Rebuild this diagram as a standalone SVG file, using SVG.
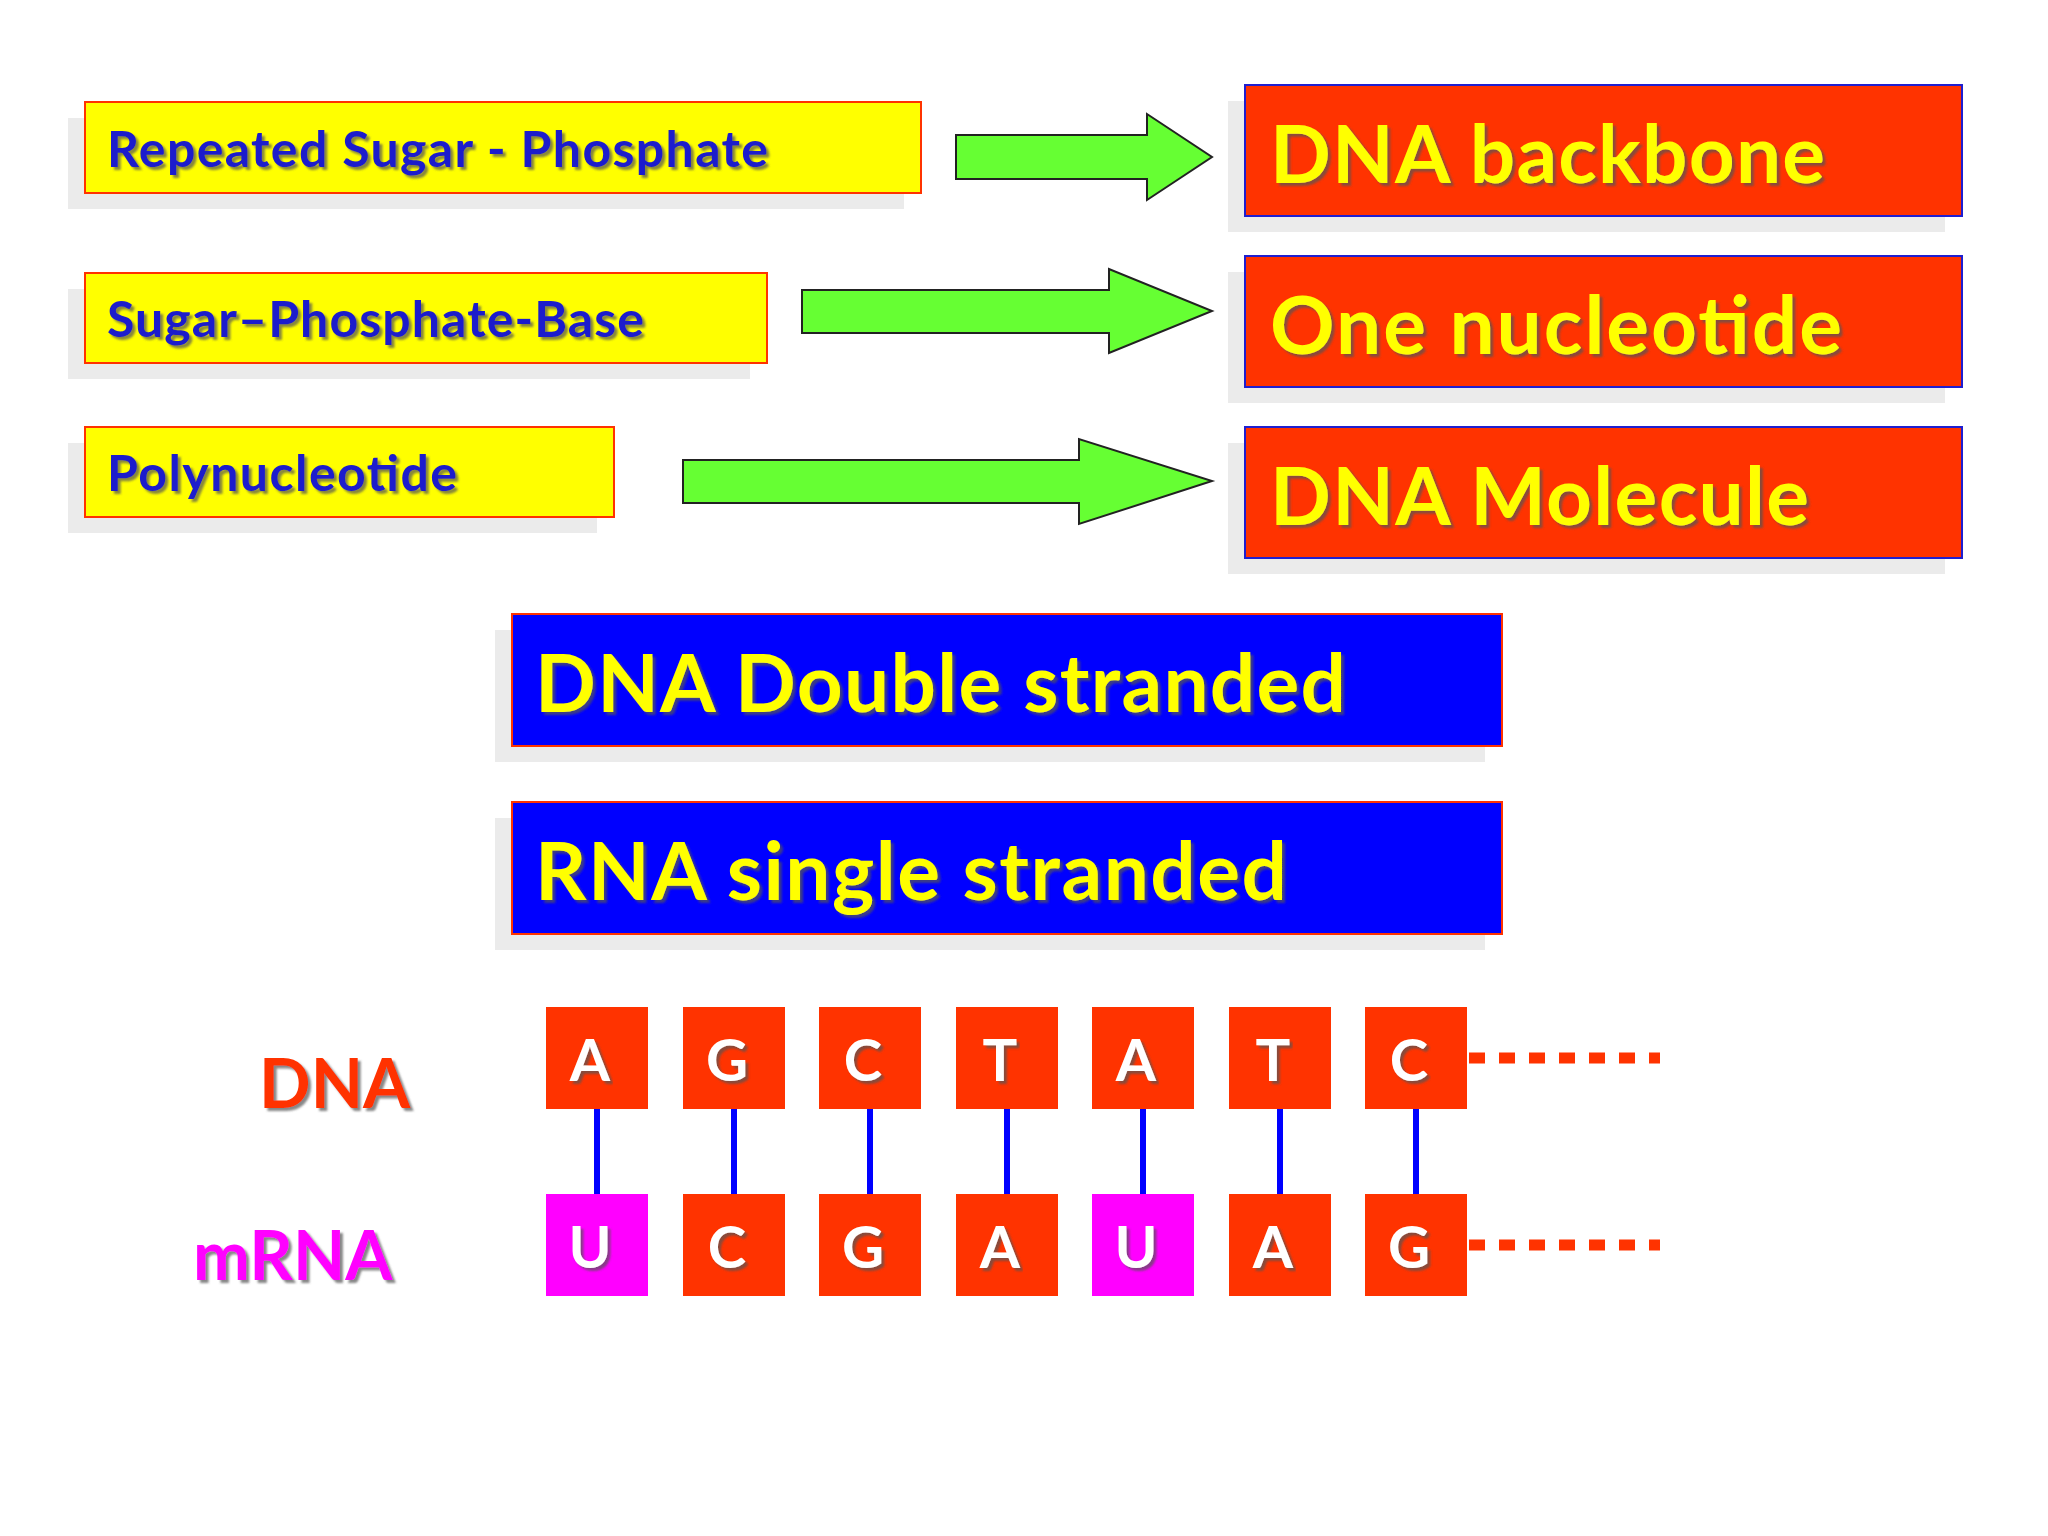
<svg xmlns="http://www.w3.org/2000/svg" width="2048" height="1536" viewBox="0 0 2048 1536">
<defs>
<style>
.t{font-family:Lato,"Open Sans","Liberation Sans",sans-serif;font-weight:bold}
.sh{fill:#ebebeb}
.yb{fill:#ffff00;stroke:#ff3300;stroke-width:2}
.rb{fill:#ff3300;stroke:#1f1fd0;stroke-width:2}
.bb{fill:#0000ff;stroke:#ff3300;stroke-width:2}
.ar{fill:#66ff33;stroke:#222;stroke-width:2}
.ln{stroke:#0000ff;stroke-width:6}
.dt{stroke:#ff3300;stroke-width:11;stroke-dasharray:16 14}
.lt{fill:#fff;font-size:58px;text-anchor:middle}
</style>
<filter id="ts" x="-5%" y="-20%" width="110%" height="140%"><feDropShadow dx="3" dy="3" stdDeviation="1" flood-color="#555" flood-opacity="0.7"/></filter>
</defs>
<rect width="2048" height="1536" fill="#fff"/>
<g id="n1"><rect class="sh" x="68" y="118" width="836" height="91"/><rect class="yb" x="85" y="102" width="836" height="91"/><text class="t" x="107" y="167" font-size="50" fill="#1a1acc" textLength="661" filter="url(#ts)">Repeated Sugar - Phosphate</text></g>
<g id="n2"><rect class="sh" x="68" y="289" width="682" height="90"/><rect class="yb" x="85" y="273" width="682" height="90"/><text class="t" x="107" y="337" font-size="50" fill="#1a1acc" textLength="537" filter="url(#ts)">Sugar–Phosphate-Base</text></g>
<g id="n3"><rect class="sh" x="68" y="443" width="529" height="90"/><rect class="yb" x="85" y="427" width="529" height="90"/><text class="t" x="107" y="491" font-size="50" fill="#1a1acc" textLength="350" filter="url(#ts)">Polynucleotide</text></g>
<g id="r1"><rect class="sh" x="1228" y="101" width="717" height="131"/><rect class="rb" x="1245" y="85" width="717" height="131"/><text class="t" x="1270" y="183" font-size="80" fill="#ffff00" textLength="555" filter="url(#ts)">DNA backbone</text></g>
<g id="r2"><rect class="sh" x="1228" y="272" width="717" height="131"/><rect class="rb" x="1245" y="256" width="717" height="131"/><text class="t" x="1270" y="354" font-size="80" fill="#ffff00" textLength="572" filter="url(#ts)">One nucleotide</text></g>
<g id="r3"><rect class="sh" x="1228" y="443" width="717" height="131"/><rect class="rb" x="1245" y="427" width="717" height="131"/><text class="t" x="1270" y="525" font-size="80" fill="#ffff00" textLength="539" filter="url(#ts)">DNA Molecule</text></g>
<g id="b1"><rect class="sh" x="495" y="630" width="990" height="132"/><rect class="bb" x="512" y="614" width="990" height="132"/><text class="t" x="535" y="712" font-size="80" fill="#ffff00" textLength="811" filter="url(#ts)">DNA Double stranded</text></g>
<g id="b2"><rect class="sh" x="495" y="818" width="990" height="132"/><rect class="bb" x="512" y="802" width="990" height="132"/><text class="t" x="535" y="900" font-size="80" fill="#ffff00" textLength="752" filter="url(#ts)">RNA single stranded</text></g>
<g id="connectors">
<path class="ar" d="M956 135H1147V114L1212 157L1147 200V179H956Z"/>
<path class="ar" d="M802 290H1109V269L1212 311L1109 353V333H802Z"/>
<path class="ar" d="M683 460H1079V439L1212 481L1079 524V503H683Z"/>
<g class="ln"><line x1="597" y1="1109" x2="597" y2="1194"/><line x1="734" y1="1109" x2="734" y2="1194"/><line x1="870" y1="1109" x2="870" y2="1194"/><line x1="1007" y1="1109" x2="1007" y2="1194"/><line x1="1143" y1="1109" x2="1143" y2="1194"/><line x1="1280" y1="1109" x2="1280" y2="1194"/><line x1="1416" y1="1109" x2="1416" y2="1194"/></g>
<line class="dt" x1="1469" y1="1058" x2="1660" y2="1058"/>
<line class="dt" x1="1469" y1="1245" x2="1660" y2="1245"/>
</g>
<text class="t" x="259" y="1108" font-size="68" fill="#ff3300" filter="url(#ts)">DNA</text>
<text class="t" x="193" y="1280" font-size="68" fill="#ff00ff" filter="url(#ts)">mRNA</text>
<g id="dna" class="t">
<rect x="546" y="1007" width="102" height="102" fill="#ff3300"/><text class="lt" x="590" y="1081" filter="url(#ts)">A</text>
<rect x="683" y="1007" width="102" height="102" fill="#ff3300"/><text class="lt" x="727" y="1081" filter="url(#ts)">G</text>
<rect x="819" y="1007" width="102" height="102" fill="#ff3300"/><text class="lt" x="863" y="1081" filter="url(#ts)">C</text>
<rect x="956" y="1007" width="102" height="102" fill="#ff3300"/><text class="lt" x="1000" y="1081" filter="url(#ts)">T</text>
<rect x="1092" y="1007" width="102" height="102" fill="#ff3300"/><text class="lt" x="1136" y="1081" filter="url(#ts)">A</text>
<rect x="1229" y="1007" width="102" height="102" fill="#ff3300"/><text class="lt" x="1273" y="1081" filter="url(#ts)">T</text>
<rect x="1365" y="1007" width="102" height="102" fill="#ff3300"/><text class="lt" x="1409" y="1081" filter="url(#ts)">C</text>
</g>
<g id="mrna" class="t">
<rect x="546" y="1194" width="102" height="102" fill="#ff00ff"/><text class="lt" x="590" y="1268" filter="url(#ts)">U</text>
<rect x="683" y="1194" width="102" height="102" fill="#ff3300"/><text class="lt" x="727" y="1268" filter="url(#ts)">C</text>
<rect x="819" y="1194" width="102" height="102" fill="#ff3300"/><text class="lt" x="863" y="1268" filter="url(#ts)">G</text>
<rect x="956" y="1194" width="102" height="102" fill="#ff3300"/><text class="lt" x="1000" y="1268" filter="url(#ts)">A</text>
<rect x="1092" y="1194" width="102" height="102" fill="#ff00ff"/><text class="lt" x="1136" y="1268" filter="url(#ts)">U</text>
<rect x="1229" y="1194" width="102" height="102" fill="#ff3300"/><text class="lt" x="1273" y="1268" filter="url(#ts)">A</text>
<rect x="1365" y="1194" width="102" height="102" fill="#ff3300"/><text class="lt" x="1409" y="1268" filter="url(#ts)">G</text>
</g>
</svg>
